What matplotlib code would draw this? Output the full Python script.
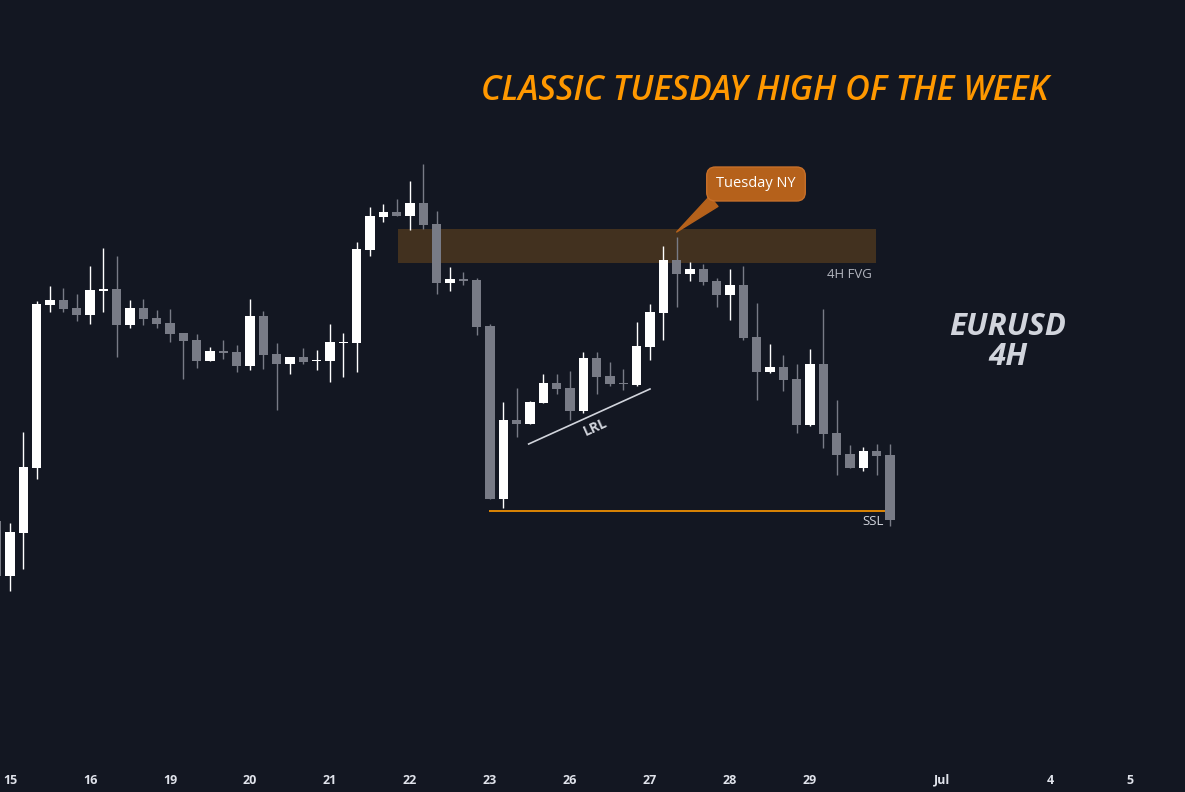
import numpy as np
import matplotlib.pyplot as plt
from matplotlib.transforms import blended_transform_factory

# EURUSD 4H candles, first one is only partly visible at the left edge
opens = [1.1479, 1.1424, 1.1467, 1.1532, 1.1695, 1.1700, 1.1692, 1.1685, 1.1709, 1.1711, 1.1675,
         1.1692, 1.1682, 1.1677, 1.1667, 1.1660, 1.1639, 1.1649, 1.1648, 1.1634, 1.1684, 1.1646,
         1.1636, 1.1643, 1.1639, 1.1639, 1.1657, 1.1657, 1.1750, 1.1783, 1.1788, 1.1784, 1.1797,
         1.1776, 1.1717, 1.1721, 1.1720, 1.1674, 1.1501, 1.1580, 1.1576, 1.1597, 1.1617, 1.1612,
         1.1589, 1.1642, 1.1624, 1.1617, 1.1615, 1.1653, 1.1687, 1.1740, 1.1726, 1.1731, 1.1719,
         1.1705, 1.1715, 1.1663, 1.1628, 1.1633, 1.1621, 1.1575, 1.1636, 1.1567, 1.1546, 1.1532,
         1.1549, 1.1545]
highs = [1.1479, 1.1477, 1.1568, 1.1699, 1.1714, 1.1712, 1.1706, 1.1734, 1.1752, 1.1744, 1.1700,
         1.1701, 1.1690, 1.1691, 1.1667, 1.1666, 1.1653, 1.1660, 1.1655, 1.1701, 1.1689, 1.1657,
         1.1643, 1.1652, 1.1650, 1.1676, 1.1667, 1.1758, 1.1793, 1.1796, 1.1801, 1.1819, 1.1836,
         1.1789, 1.1733, 1.1728, 1.1722, 1.1676, 1.1598, 1.1612, 1.1599, 1.1626, 1.1626, 1.1629,
         1.1648, 1.1648, 1.1638, 1.1631, 1.1678, 1.1696, 1.1754, 1.1763, 1.1738, 1.1736, 1.1722,
         1.1731, 1.1734, 1.1697, 1.1656, 1.1645, 1.1636, 1.1651, 1.1691, 1.1600, 1.1555, 1.1553,
         1.1556, 1.1556]
lows = [1.1424, 1.1409, 1.1431, 1.1521, 1.1688, 1.1688, 1.1679, 1.1676, 1.1688, 1.1643, 1.1672,
        1.1675, 1.1672, 1.1658, 1.1621, 1.1632, 1.1639, 1.1641, 1.1628, 1.1630, 1.1631, 1.1590,
        1.1626, 1.1636, 1.1630, 1.1618, 1.1623, 1.1628, 1.1744, 1.1778, 1.1784, 1.1770, 1.1771,
        1.1706, 1.1709, 1.1715, 1.1665, 1.1501, 1.1492, 1.1563, 1.1576, 1.1597, 1.1606, 1.1580,
        1.1587, 1.1606, 1.1614, 1.1610, 1.1614, 1.1640, 1.1660, 1.1693, 1.1719, 1.1715, 1.1693,
        1.1680, 1.1660, 1.1600, 1.1627, 1.1609, 1.1567, 1.1574, 1.1552, 1.1525, 1.1532, 1.1529,
        1.1525, 1.1474]
closes = [1.1424, 1.1468, 1.1533, 1.1696, 1.1700, 1.1691, 1.1685, 1.1710, 1.1711, 1.1675, 1.1692,
          1.1681, 1.1676, 1.1666, 1.1659, 1.1639, 1.1649, 1.1647, 1.1634, 1.1684, 1.1645, 1.1636,
          1.1643, 1.1638, 1.1640, 1.1658, 1.1658, 1.1751, 1.1784, 1.1788, 1.1784, 1.1797, 1.1775,
          1.1717, 1.1721, 1.1719, 1.1673, 1.1501, 1.1580, 1.1576, 1.1598, 1.1617, 1.1611, 1.1589,
          1.1642, 1.1623, 1.1616, 1.1616, 1.1654, 1.1688, 1.1740, 1.1726, 1.1731, 1.1718, 1.1705,
          1.1715, 1.1662, 1.1628, 1.1633, 1.1620, 1.1575, 1.1636, 1.1566, 1.1545, 1.1532, 1.1549,
          1.1544, 1.1480]

day_labels = ['15', '16', '19', '20', '21', '22', '23', '26', '27', '28', '29', 'Jul', '4', '5']
day_pos = [0, 6, 12, 18, 24, 30, 36, 42, 48, 54, 60, 69.9, 78, 84]

fvg_top, fvg_bottom = 1.1771, 1.1737
fvg_start, fvg_end = 29.1, 64.95
ssl_level, ssl_start, ssl_end = 1.1489, 35.9, 65.6
lrl_x = [38.9, 48.0]
lrl_y = [1.1556, 1.1611]
tuesday_ny_high = (50, 1.1768)

bg = '#131722'
up_col = '#ffffff'
down_col = '#787b86'

fig = plt.figure(figsize=(11.85, 7.92), dpi=100, facecolor=bg)
ax = fig.add_axes([0, 0, 1, 1])
ax.set_facecolor(bg)
ax.axis('off')

x = np.arange(len(opens)) - 1
o = np.array(opens)
c = np.array(closes)
cols = [up_col if cc >= oo else down_col for oo, cc in zip(o, c)]

# fvg zone behind candles
ax.fill_between([fvg_start, fvg_end], fvg_bottom, fvg_top, color='#42311f', lw=0, zorder=1)

ax.vlines(x, lows, highs, colors=cols, lw=1, zorder=2)
body = np.maximum(np.abs(c - o), 0.0001)
ax.bar(x, body, bottom=np.minimum(o, c), width=0.68, color=cols, lw=0, zorder=3)

# SSL line
ax.hlines(ssl_level, ssl_start, ssl_end, colors='#ff9800', lw=1.2, zorder=2)
ax.text(ssl_end - 0.1, ssl_level - 0.0004, 'SSL', color='#d1d4dc', fontsize=9.5,
        ha='right', va='top', family='Open Sans')

# LRL trendline
ax.plot(lrl_x, lrl_y, color='#d1d4dc', lw=1.2, zorder=2)
ang = np.degrees(np.arctan2(55, 121))
ax.text(43.9, 1.1573, 'LRL', color='#d1d4dc', fontsize=10, rotation=ang, weight='bold',
        ha='center', va='center', family='Open Sans', rotation_mode='anchor')

ax.text(fvg_end - 0.3, fvg_bottom - 0.0012, '4H FVG', color='#b2b5be', fontsize=9.5,
        ha='right', va='center', family='Open Sans')

ax.annotate('Tuesday NY', xy=tuesday_ny_high, xytext=(55.95, 1.1816),
            color='white', fontsize=10.5, ha='center', va='center', family='Open Sans',
            bbox=dict(boxstyle='round,pad=0.65,rounding_size=0.6', fc='#b5611b', ec='#c8702a'),
            arrowprops=dict(arrowstyle='wedge,tail_width=0.9', fc='#b5611b', ec='#b5611b',
                            relpos=(0.12, 0.0), shrinkA=0, shrinkB=0),
            zorder=5)

ax.text(56.6, 1.1909, 'CLASSIC TUESDAY HIGH OF THE WEEK', color='#ff9800', fontsize=24.5,
        style='italic', weight='semibold', ha='center', va='center', family='Open Sans')
ax.text(74.85, 1.1658, 'EURUSD\n4H', color='#d1d4dc', fontsize=22.5, style='italic',
        weight='bold', ha='center', va='center', family='Open Sans', linespacing=0.98)

trans = blended_transform_factory(ax.transData, ax.transAxes)
for lab, p in zip(day_labels, day_pos):
    ax.text(p, 1 - 780 / 792, lab, transform=trans, color='#e0e3eb', fontsize=9,
            weight='bold', ha='center', va='center', family='Open Sans')

ax.set_xlim(-0.75, 88.125)
ax.set_ylim(1.1208, 1.2000)

fig.savefig('out.png', dpi=100, facecolor=bg)
